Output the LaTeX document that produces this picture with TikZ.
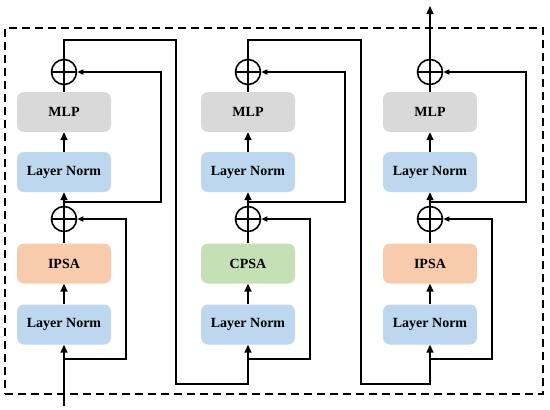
\documentclass[tikz,border=0pt]{standalone}
\usepackage{fontspec}
\setmainfont{Liberation Serif}
\usetikzlibrary{arrows.meta}
\definecolor{lnblue}{HTML}{BDD7EE}
\definecolor{mlpgray}{HTML}{D9D9D9}
\definecolor{ipsaor}{HTML}{F8CBAD}
\definecolor{cpsagr}{HTML}{C5E0B4}
\begin{document}
\begin{tikzpicture}[x=1pt,y=-1pt,
  blk/.style={rounded corners=7pt, minimum width=94pt, minimum height=40pt, inner sep=0pt,
    font=\bfseries\fontsize{14}{16}\selectfont, text=black},
  lnbox/.style={blk, fill=lnblue},
  mlpbox/.style={blk, fill=mlpgray},
  ipsabox/.style={blk, fill=ipsaor},
  cpsabox/.style={blk, fill=cpsagr},
  plusnode/.style={circle, draw, line width=1.6pt, minimum size=25pt, inner sep=0pt,
    path picture={\draw[line width=1.6pt] (path picture bounding box.north) -- (path picture bounding box.south)
      (path picture bounding box.west) -- (path picture bounding box.east);}},
  ln/.style={line width=1.6pt},
  arr/.style={ln, -{Triangle[length=8pt,width=7pt]}},
  sarr/.style={ln, -{Triangle[length=6pt,width=5pt]}},
]
\useasboundingbox (0,0) rectangle (550,410);
\node[draw, dash pattern=on 8pt off 5pt, line width=1.3pt, minimum width=538pt, minimum height=366pt, inner sep=0pt] (frame) at (274,211) {};

% column 1
\node[lnbox] (ln1a) at (64,324.5) {Layer Norm};
\node[ipsabox] (at1) at (64,263.5) {IPSA};
\node[plusnode] (p1a) at (64,219) {};
\node[lnbox] (ln1b) at (64,172) {Layer Norm};
\node[mlpbox] (mlp1) at (64,112) {MLP};
\node[plusnode] (p1b) at (64,72) {};
% column 2
\node[lnbox] (ln2a) at (248,324.5) {Layer Norm};
\node[cpsabox] (at2) at (248,263.5) {CPSA};
\node[plusnode] (p2a) at (248,219) {};
\node[lnbox] (ln2b) at (248,172) {Layer Norm};
\node[mlpbox] (mlp2) at (248,112) {MLP};
\node[plusnode] (p2b) at (248,72) {};
% column 3
\node[lnbox] (ln3a) at (430,324.5) {Layer Norm};
\node[ipsabox] (at3) at (430,263.5) {IPSA};
\node[plusnode] (p3a) at (430,219) {};
\node[lnbox] (ln3b) at (430,172) {Layer Norm};
\node[mlpbox] (mlp3) at (430,112) {MLP};
\node[plusnode] (p3b) at (430,72) {};

\coordinate (in1) at (64,406);
\coordinate (out3) at (430,6);
\coordinate (s1a) at (64,359);
\coordinate (s1b) at (64,202);
\coordinate (s2a) at (248,359);
\coordinate (s2b) at (248,202);
\coordinate (s3a) at (430,359);
\coordinate (s3b) at (430,202);

% column 1 flow
\draw[arr] (in1) -- (ln1a);
\draw[arr] (ln1a) -- (at1);
\draw[ln] (at1) -- (p1a);
\draw[arr] (p1a) -- (ln1b);
\draw[arr] (ln1b) -- (mlp1);
\draw[ln] (mlp1) -- (p1b);
\draw[sarr] (s1a) -- (126,359) -- (126,219) -- (p1a);
\draw[sarr] (s1b) -- (161,202) -- (161,72) -- (p1b);
\draw[arr] (p1b) -- (64,40) -- (176,40) -- (176,384) -- (248,384) -- (ln2a);
% column 2 flow
\draw[arr] (ln2a) -- (at2);
\draw[ln] (at2) -- (p2a);
\draw[arr] (p2a) -- (ln2b);
\draw[arr] (ln2b) -- (mlp2);
\draw[ln] (mlp2) -- (p2b);
\draw[sarr] (s2a) -- (310,359) -- (310,219) -- (p2a);
\draw[sarr] (s2b) -- (345,202) -- (345,72) -- (p2b);
\draw[arr] (p2b) -- (248,40) -- (361,40) -- (361,384) -- (430,384) -- (ln3a);
% column 3 flow
\draw[arr] (ln3a) -- (at3);
\draw[ln] (at3) -- (p3a);
\draw[arr] (p3a) -- (ln3b);
\draw[arr] (ln3b) -- (mlp3);
\draw[ln] (mlp3) -- (p3b);
\draw[sarr] (s3a) -- (492,359) -- (492,219) -- (p3a);
\draw[sarr] (s3b) -- (526,202) -- (526,72) -- (p3b);
\draw[arr] (p3b) -- (out3);
\end{tikzpicture}
\end{document}
